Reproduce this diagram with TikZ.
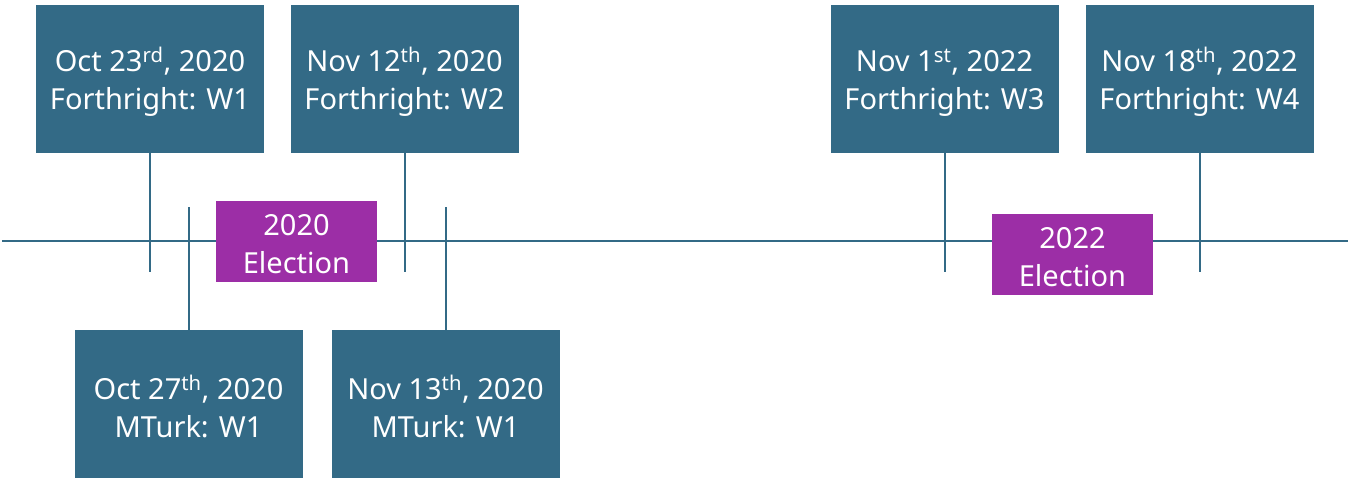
\documentclass[tikz,border=0pt]{standalone}
\usepackage{fontspec}
\setmainfont{Noto Sans}
\usetikzlibrary{positioning}
\definecolor{wavebl}{HTML}{336A86}
\definecolor{elecpu}{HTML}{9C2EA6}

\begin{document}
\begin{tikzpicture}[x=1pt, y=-1pt,
  font=\fontsize{29}{38}\selectfont,
  wave/.style={fill=wavebl, text=white, minimum width=228pt, minimum height=148pt, inner sep=0pt, align=center, text height=68pt},
  elec/.style={fill=elecpu, text=white, minimum width=161pt, minimum height=81pt, inner sep=0pt, align=center, text height=65pt},
  tick/.style={draw=wavebl, line width=2pt}]
  \useasboundingbox (0,0) rectangle (1350,485);
  % timeline ends and tick ends
  \coordinate (tl) at (2,241);
  \coordinate (tr) at (1348,241);
  \coordinate (below) at (0,272);
  \coordinate (above) at (0,207);
  \draw[tick] (tl) -- (tr);
  % waves above the line
  \node[wave] (fw1) at (150,79) {Oct 23\textsuperscript{rd}, 2020\\Forthright: W1};
  \node[wave] (fw2) at (404.5,79) {Nov 12\textsuperscript{th}, 2020\\Forthright: W2};
  \node[wave] (fw3) at (944.5,79) {Nov 1\textsuperscript{st}, 2022\\Forthright: W3};
  \node[wave] (fw4) at (1199.5,79) {Nov 18\textsuperscript{th}, 2022\\Forthright: W4};
  % waves below the line
  \node[wave] (mt1) at (188.5,404) {Oct 27\textsuperscript{th}, 2020\\MTurk: W1};
  \node[wave] (mt2) at (445.5,404) {Nov 13\textsuperscript{th}, 2020\\MTurk: W1};
  \foreach \w in {fw1,fw2,fw3,fw4}
    \draw[tick] (\w.south) -- (\w.south |- below);
  \foreach \w in {mt1,mt2}
    \draw[tick] (\w.north) -- (\w.north |- above);
  % elections
  \node[elec] (e20) at (296.5,241) {2020\\Election};
  \node[elec] (e22) at (1072.5,254.5) {2022\\Election};
\end{tikzpicture}
\end{document}
